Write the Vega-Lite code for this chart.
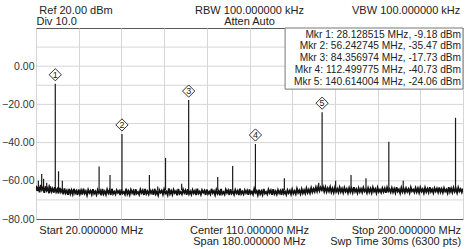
{
  "$schema": "https://vega.github.io/schema/vega-lite/v6.json",
  "width": 427,
  "height": 191,
  "autosize": {"type": "none"},
  "padding": {"left": 36, "top": 28, "right": 11, "bottom": 30},
  "background": "white",
  "config": {
    "view": {"stroke": "#5a5a5a", "strokeWidth": 1},
    "font": "Liberation Sans",
    "text": {"font": "Liberation Sans", "fontSize": 10.5, "color": "#222"}
  },
  "datasets": {
    "trace": [
      {"f":20.0,"v":-62.6},{"f":20.5,"v":-65.3},{"f":21.0,"v":-63.1},{"f":21.5,"v":-66.0},{"f":22.0,"v":-62.2},{"f":22.5,"v":-64.7},{"f":23.0,"v":-63.4},{"f":23.5,"v":-66.3},{"f":24.0,"v":-62.9},{"f":24.5,"v":-65.1},
      {"f":25.0,"v":-63.8},{"f":25.5,"v":-66.5},{"f":26.0,"v":-63.0},{"f":26.5,"v":-65.6},{"f":27.0,"v":-64.1},{"f":27.5,"v":-66.2},{"f":28.0,"v":-63.3},{"f":28.5,"v":-65.8},{"f":29.0,"v":-64.4},{"f":29.5,"v":-66.6},
      {"f":30.0,"v":-63.7},{"f":30.5,"v":-65.9},{"f":31.0,"v":-64.6},{"f":31.5,"v":-67.1},{"f":32.0,"v":-64.0},{"f":32.5,"v":-66.4},{"f":33.0,"v":-65.1},{"f":33.5,"v":-67.3},{"f":34.0,"v":-64.3},{"f":34.5,"v":-66.8},
      {"f":35.0,"v":-64.9},{"f":35.5,"v":-67.0},{"f":36.0,"v":-64.2},{"f":36.5,"v":-66.5},{"f":37.0,"v":-65.3},{"f":37.5,"v":-67.4},{"f":38.0,"v":-64.5},{"f":38.5,"v":-66.9},{"f":39.0,"v":-65.0},{"f":39.5,"v":-67.2},
      {"f":40.0,"v":-64.1},{"f":40.5,"v":-66.6},{"f":41.0,"v":-65.4},{"f":41.5,"v":-67.5},{"f":42.0,"v":-64.7},{"f":42.5,"v":-66.3},{"f":43.0,"v":-65.2},{"f":43.5,"v":-67.1},{"f":44.0,"v":-64.4},{"f":44.5,"v":-66.7},
      {"f":45.0,"v":-65.6},{"f":45.5,"v":-67.3},{"f":46.0,"v":-64.8},{"f":46.5,"v":-66.4},{"f":47.0,"v":-65.1},{"f":47.5,"v":-67.6},{"f":48.0,"v":-64.3},{"f":48.5,"v":-66.9},{"f":49.0,"v":-65.5},{"f":49.5,"v":-67.2},
      {"f":50.0,"v":-64.6},{"f":50.5,"v":-66.5},{"f":51.0,"v":-65.0},{"f":51.5,"v":-67.4},{"f":52.0,"v":-64.2},{"f":52.5,"v":-66.8},{"f":53.0,"v":-65.7},{"f":53.5,"v":-67.0},{"f":54.0,"v":-64.9},{"f":54.5,"v":-66.2},
      {"f":55.0,"v":-65.3},{"f":55.5,"v":-67.5},{"f":56.0,"v":-64.5},{"f":56.5,"v":-66.6},{"f":57.0,"v":-65.8},{"f":57.5,"v":-67.1},{"f":58.0,"v":-64.1},{"f":58.5,"v":-66.9},{"f":59.0,"v":-65.4},{"f":59.5,"v":-67.3},
      {"f":60.0,"v":-64.7},{"f":60.5,"v":-66.4},{"f":61.0,"v":-65.2},{"f":61.5,"v":-67.6},{"f":62.0,"v":-64.4},{"f":62.5,"v":-66.7},{"f":63.0,"v":-65.9},{"f":63.5,"v":-67.2},{"f":64.0,"v":-64.6},{"f":64.5,"v":-66.3},
      {"f":65.0,"v":-65.0},{"f":65.5,"v":-67.4},{"f":66.0,"v":-64.3},{"f":66.5,"v":-66.8},{"f":67.0,"v":-65.5},{"f":67.5,"v":-67.0},{"f":68.0,"v":-64.8},{"f":68.5,"v":-66.5},{"f":69.0,"v":-65.2},{"f":69.5,"v":-67.3},
      {"f":70.0,"v":-64.2},{"f":70.5,"v":-66.9},{"f":71.0,"v":-65.6},{"f":71.5,"v":-67.5},{"f":72.0,"v":-64.9},{"f":72.5,"v":-66.2},{"f":73.0,"v":-65.1},{"f":73.5,"v":-67.1},{"f":74.0,"v":-64.5},{"f":74.5,"v":-66.6},
      {"f":75.0,"v":-65.7},{"f":75.5,"v":-67.4},{"f":76.0,"v":-64.0},{"f":76.5,"v":-66.8},{"f":77.0,"v":-65.3},{"f":77.5,"v":-67.2},{"f":78.0,"v":-64.7},{"f":78.5,"v":-66.4},{"f":79.0,"v":-65.4},{"f":79.5,"v":-67.6},
      {"f":80.0,"v":-64.3},{"f":80.5,"v":-66.7},{"f":81.0,"v":-65.8},{"f":81.5,"v":-67.0},{"f":82.0,"v":-64.6},{"f":82.5,"v":-66.3},{"f":83.0,"v":-65.0},{"f":83.5,"v":-67.3},{"f":84.0,"v":-64.4},{"f":84.5,"v":-66.9},
      {"f":85.0,"v":-65.5},{"f":85.5,"v":-67.1},{"f":86.0,"v":-64.8},{"f":86.5,"v":-66.5},{"f":87.0,"v":-65.2},{"f":87.5,"v":-67.5},{"f":88.0,"v":-64.1},{"f":88.5,"v":-66.6},{"f":89.0,"v":-65.6},{"f":89.5,"v":-67.2},
      {"f":90.0,"v":-64.9},{"f":90.5,"v":-66.2},{"f":91.0,"v":-65.1},{"f":91.5,"v":-67.4},{"f":92.0,"v":-64.5},{"f":92.5,"v":-66.8},{"f":93.0,"v":-65.7},{"f":93.5,"v":-67.0},{"f":94.0,"v":-64.2},{"f":94.5,"v":-66.4},
      {"f":95.0,"v":-65.3},{"f":95.5,"v":-67.3},{"f":96.0,"v":-64.7},{"f":96.5,"v":-66.7},{"f":97.0,"v":-65.4},{"f":97.5,"v":-67.6},{"f":98.0,"v":-64.3},{"f":98.5,"v":-66.9},{"f":99.0,"v":-65.9},{"f":99.5,"v":-67.1},
      {"f":100.0,"v":-64.6},{"f":100.5,"v":-66.3},{"f":101.0,"v":-65.0},{"f":101.5,"v":-67.4},{"f":102.0,"v":-64.4},{"f":102.5,"v":-66.6},{"f":103.0,"v":-65.5},{"f":103.5,"v":-67.2},{"f":104.0,"v":-64.8},{"f":104.5,"v":-66.5},
      {"f":105.0,"v":-65.2},{"f":105.5,"v":-67.5},{"f":106.0,"v":-64.1},{"f":106.5,"v":-66.8},{"f":107.0,"v":-65.6},{"f":107.5,"v":-67.0},{"f":108.0,"v":-64.9},{"f":108.5,"v":-66.4},{"f":109.0,"v":-65.1},{"f":109.5,"v":-67.3},
      {"f":110.0,"v":-64.5},{"f":110.5,"v":-66.7},{"f":111.0,"v":-65.7},{"f":111.5,"v":-67.1},{"f":112.0,"v":-64.2},{"f":112.5,"v":-66.2},{"f":113.0,"v":-65.3},{"f":113.5,"v":-67.4},{"f":114.0,"v":-64.7},{"f":114.5,"v":-66.9},
      {"f":115.0,"v":-65.4},{"f":115.5,"v":-67.2},{"f":116.0,"v":-64.3},{"f":116.5,"v":-66.6},{"f":117.0,"v":-65.8},{"f":117.5,"v":-67.0},{"f":118.0,"v":-64.6},{"f":118.5,"v":-66.3},{"f":119.0,"v":-65.0},{"f":119.5,"v":-67.3},
      {"f":120.0,"v":-64.4},{"f":120.5,"v":-66.8},{"f":121.0,"v":-65.5},{"f":121.5,"v":-67.1},{"f":122.0,"v":-64.8},{"f":122.5,"v":-66.5},{"f":123.0,"v":-65.2},{"f":123.5,"v":-67.4},{"f":124.0,"v":-64.1},{"f":124.5,"v":-66.7},
      {"f":125.0,"v":-65.6},{"f":125.5,"v":-67.2},{"f":126.0,"v":-64.9},{"f":126.5,"v":-66.4},{"f":127.0,"v":-65.1},{"f":127.5,"v":-67.0},{"f":128.0,"v":-64.5},{"f":128.5,"v":-66.6},{"f":129.0,"v":-65.3},{"f":129.5,"v":-66.9},
      {"f":130.0,"v":-64.2},{"f":130.5,"v":-66.3},{"f":131.0,"v":-65.0},{"f":131.5,"v":-66.8},{"f":132.0,"v":-64.4},{"f":132.5,"v":-66.5},{"f":133.0,"v":-64.9},{"f":133.5,"v":-66.6},{"f":134.0,"v":-64.0},{"f":134.5,"v":-66.2},
      {"f":135.0,"v":-64.6},{"f":135.5,"v":-66.4},{"f":136.0,"v":-63.8},{"f":136.5,"v":-65.9},{"f":137.0,"v":-64.2},{"f":137.5,"v":-65.7},{"f":138.0,"v":-63.4},{"f":138.5,"v":-65.5},{"f":139.0,"v":-63.0},{"f":139.5,"v":-65.2},
      {"f":140.0,"v":-63.5},{"f":140.5,"v":-64.9},{"f":141.0,"v":-63.2},{"f":141.5,"v":-65.6},{"f":142.0,"v":-63.4},{"f":142.5,"v":-65.8},{"f":143.0,"v":-63.9},{"f":143.5,"v":-65.5},{"f":144.0,"v":-63.3},{"f":144.5,"v":-65.9},
      {"f":145.0,"v":-64.0},{"f":145.5,"v":-66.1},{"f":146.0,"v":-63.6},{"f":146.5,"v":-65.7},{"f":147.0,"v":-64.2},{"f":147.5,"v":-66.0},{"f":148.0,"v":-63.5},{"f":148.5,"v":-65.8},{"f":149.0,"v":-64.1},{"f":149.5,"v":-66.2},
      {"f":150.0,"v":-63.7},{"f":150.5,"v":-65.6},{"f":151.0,"v":-64.3},{"f":151.5,"v":-66.3},{"f":152.0,"v":-63.8},{"f":152.5,"v":-65.9},{"f":153.0,"v":-64.0},{"f":153.5,"v":-66.1},{"f":154.0,"v":-63.4},{"f":154.5,"v":-65.7},
      {"f":155.0,"v":-64.4},{"f":155.5,"v":-66.4},{"f":156.0,"v":-63.9},{"f":156.5,"v":-65.8},{"f":157.0,"v":-64.2},{"f":157.5,"v":-66.0},{"f":158.0,"v":-63.6},{"f":158.5,"v":-65.5},{"f":159.0,"v":-64.5},{"f":159.5,"v":-66.3},
      {"f":160.0,"v":-63.8},{"f":160.5,"v":-65.9},{"f":161.0,"v":-64.1},{"f":161.5,"v":-66.2},{"f":162.0,"v":-63.5},{"f":162.5,"v":-65.6},{"f":163.0,"v":-64.3},{"f":163.5,"v":-66.4},{"f":164.0,"v":-63.7},{"f":164.5,"v":-65.8},
      {"f":165.0,"v":-64.6},{"f":165.5,"v":-66.1},{"f":166.0,"v":-63.9},{"f":166.5,"v":-65.7},{"f":167.0,"v":-64.0},{"f":167.5,"v":-66.3},{"f":168.0,"v":-63.6},{"f":168.5,"v":-65.5},{"f":169.0,"v":-64.4},{"f":169.5,"v":-66.0},
      {"f":170.0,"v":-63.8},{"f":170.5,"v":-65.9},{"f":171.0,"v":-64.2},{"f":171.5,"v":-66.2},{"f":172.0,"v":-63.4},{"f":172.5,"v":-65.6},{"f":173.0,"v":-64.5},{"f":173.5,"v":-66.4},{"f":174.0,"v":-63.7},{"f":174.5,"v":-65.8},
      {"f":175.0,"v":-64.1},{"f":175.5,"v":-66.1},{"f":176.0,"v":-63.9},{"f":176.5,"v":-65.7},{"f":177.0,"v":-64.3},{"f":177.5,"v":-66.3},{"f":178.0,"v":-63.5},{"f":178.5,"v":-65.5},{"f":179.0,"v":-64.6},{"f":179.5,"v":-66.0},
      {"f":180.0,"v":-63.8},{"f":180.5,"v":-65.9},{"f":181.0,"v":-64.0},{"f":181.5,"v":-66.2},{"f":182.0,"v":-63.6},{"f":182.5,"v":-65.6},{"f":183.0,"v":-64.4},{"f":183.5,"v":-66.4},{"f":184.0,"v":-63.7},{"f":184.5,"v":-65.8},
      {"f":185.0,"v":-64.2},{"f":185.5,"v":-66.1},{"f":186.0,"v":-63.3},{"f":186.5,"v":-65.7},{"f":187.0,"v":-64.5},{"f":187.5,"v":-66.3},{"f":188.0,"v":-63.9},{"f":188.5,"v":-65.5},{"f":189.0,"v":-64.1},{"f":189.5,"v":-66.0},
      {"f":190.0,"v":-63.5},{"f":190.5,"v":-65.9},{"f":191.0,"v":-64.3},{"f":191.5,"v":-66.2},{"f":192.0,"v":-63.8},{"f":192.5,"v":-65.6},{"f":193.0,"v":-64.6},{"f":193.5,"v":-66.4},{"f":194.0,"v":-63.4},{"f":194.5,"v":-65.8},
      {"f":195.0,"v":-64.0},{"f":195.5,"v":-66.1},{"f":196.0,"v":-63.7},{"f":196.5,"v":-65.7},{"f":197.0,"v":-64.2},{"f":197.5,"v":-66.3},{"f":198.0,"v":-63.6},{"f":198.5,"v":-65.5},{"f":199.0,"v":-64.4},{"f":199.5,"v":-66.0},
      {"f":200.0,"v":-64.1}
    ],
    "spikes": [
      {"f":21.0,"p":-60.0},{"f":22.4,"p":-56.5},{"f":23.2,"p":-59.0},{"f":24.5,"p":-61.0},{"f":25.6,"p":-62.0},
      {"f":28.128515,"p":-9.18},{"f":29.5,"p":-55.0},{"f":31.1,"p":-60.0},{"f":46.6,"p":-52.5},{"f":51.2,"p":-57.0},
      {"f":56.242745,"p":-35.47},{"f":67.8,"p":-57.0},{"f":71.3,"p":-63.0},{"f":74.6,"p":-48.0},{"f":81.4,"p":-61.5},
      {"f":84.356974,"p":-17.73},{"f":96.6,"p":-58.0},{"f":102.9,"p":-52.3},{"f":112.499775,"p":-40.73},{"f":124.7,"p":-58.7},
      {"f":139.2,"p":-61.0},{"f":140.614004,"p":-24.06},{"f":146.3,"p":-60.0},{"f":152.8,"p":-57.0},{"f":159.1,"p":-58.7},
      {"f":168.73,"p":-39.5},{"f":174.8,"p":-60.0},{"f":196.85,"p":-27.0}
    ],
    "markers": [
      {"f":28.128515,"p":-9.18,"n":"1"},
      {"f":56.242745,"p":-35.47,"n":"2"},
      {"f":84.356974,"p":-17.73,"n":"3"},
      {"f":112.499775,"p":-40.73,"n":"4"},
      {"f":140.614004,"p":-24.06,"n":"5"}
    ],
    "hgrid": [{"g":-70},{"g":-60},{"g":-50},{"g":-40},{"g":-30},{"g":-20},{"g":-10},{"g":0},{"g":10}]
  },
  "layer": [
    {
      "data": {"name": "hgrid"},
      "mark": {"type": "rule", "color": "#d6d6d6", "strokeWidth": 1},
      "encoding": {
        "y": {"field": "g", "type": "quantitative"}
      }
    },
    {
      "data": {"name": "trace"},
      "mark": {"type": "line", "color": "#111", "strokeWidth": 1.8, "clip": true},
      "encoding": {
        "x": {"field": "f", "type": "quantitative",
              "scale": {"domain": [20, 200], "nice": false, "zero": false},
              "axis": {"values": [20,38,56,74,92,110,128,146,164,182,200], "grid": true, "gridColor": "#d6d6d6", "labels": false, "ticks": false, "domain": false, "title": null}},
        "y": {"field": "v", "type": "quantitative",
              "scale": {"domain": [-80, 20], "nice": false, "zero": false},
              "axis": {"values": [-80,-60,-40,-20,0], "grid": false, "ticks": false, "domain": false, "title": null,
                       "format": ".2f", "labelOverlap": false,
                       "labelFont": "Liberation Sans", "labelFontSize": 10.5, "labelColor": "#333", "labelPadding": 2}}
      }
    },
    {
      "data": {"name": "spikes"},
      "mark": {"type": "rule", "color": "#1a1a1a", "strokeWidth": 1.2},
      "encoding": {
        "x": {"field": "f", "type": "quantitative"},
        "y": {"field": "p", "type": "quantitative"},
        "y2": {"datum": -65}
      }
    },
    {
      "data": {"values": [{}]},
      "mark": {"type": "rect", "fill": "white", "stroke": "#777", "strokeWidth": 1},
      "encoding": {
        "x": {"datum": 125},
        "x2": {"datum": 200},
        "y": {"datum": 20},
        "y2": {"datum": -12}
      }
    },
    {
      "data": {"values": [
        {"f":199.2,"v":15.0,"t":"Mkr 1: 28.128515 MHz, -9.18 dBm"},
        {"f":199.2,"v":8.85,"t":"Mkr 2: 56.242745 MHz, -35.47 dBm"},
        {"f":199.2,"v":2.67,"t":"Mkr 3: 84.356974 MHz, -17.73 dBm"},
        {"f":199.2,"v":-3.51,"t":"Mkr 4: 112.499775 MHz, -40.73 dBm"},
        {"f":199.2,"v":-9.69,"t":"Mkr 5: 140.614004 MHz, -24.06 dBm"}
      ]},
      "mark": {"type": "text", "align": "right", "baseline": "alphabetic", "fontSize": 10.2, "color": "#222"},
      "encoding": {
        "x": {"field": "f", "type": "quantitative"},
        "y": {"field": "v", "type": "quantitative"},
        "text": {"field": "t"}
      }
    },
    {
      "data": {"values": [
        {"f":198.85,"v":27.3,"t":"VBW 100.000000 kHz"},
        {"f":199.2,"v":-87.85,"t":"Stop 200.000000 MHz"},
        {"f":199.2,"v":-93.6,"t":"Swp Time 30ms (6300 pts)"}
      ]},
      "mark": {"type": "text", "align": "right", "baseline": "alphabetic", "fontSize": 11, "color": "#222"},
      "encoding": {
        "x": {"field": "f", "type": "quantitative"},
        "y": {"field": "v", "type": "quantitative"},
        "text": {"field": "t"}
      }
    },
    {
      "data": {"values": [
        {"f":21.4,"v":27.3,"t":"Ref 20.00 dBm"},
        {"f":20.2,"v":21.6,"t":"Div 10.0"},
        {"f":21.4,"v":-87.85,"t":"Start 20.000000 MHz"}
      ]},
      "mark": {"type": "text", "align": "left", "baseline": "alphabetic", "fontSize": 11, "color": "#222"},
      "encoding": {
        "x": {"field": "f", "type": "quantitative"},
        "y": {"field": "v", "type": "quantitative"},
        "text": {"field": "t"}
      }
    },
    {
      "data": {"values": [
        {"f":110,"v":27.3,"t":"RBW 100.000000 kHz"},
        {"f":110,"v":21.6,"t":"Atten Auto"},
        {"f":110,"v":-87.85,"t":"Center 110.000000 MHz"},
        {"f":110,"v":-93.6,"t":"Span 180.000000 MHz"}
      ]},
      "mark": {"type": "text", "align": "center", "baseline": "alphabetic", "fontSize": 11, "color": "#222"},
      "encoding": {
        "x": {"field": "f", "type": "quantitative"},
        "y": {"field": "v", "type": "quantitative"},
        "text": {"field": "t"}
      }
    },
    {
      "data": {"name": "markers"},
      "mark": {"type": "point", "shape": "diamond", "size": 150, "filled": true, "fill": "white", "stroke": "#333", "strokeWidth": 1, "opacity": 1, "yOffset": -9},
      "encoding": {
        "x": {"field": "f", "type": "quantitative"},
        "y": {"field": "p", "type": "quantitative"}
      }
    },
    {
      "data": {"name": "markers"},
      "mark": {"type": "text", "fontSize": 9, "baseline": "middle", "align": "center", "dy": -9, "color": "#222"},
      "encoding": {
        "x": {"field": "f", "type": "quantitative"},
        "y": {"field": "p", "type": "quantitative"},
        "text": {"field": "n"}
      }
    }
  ]
}
